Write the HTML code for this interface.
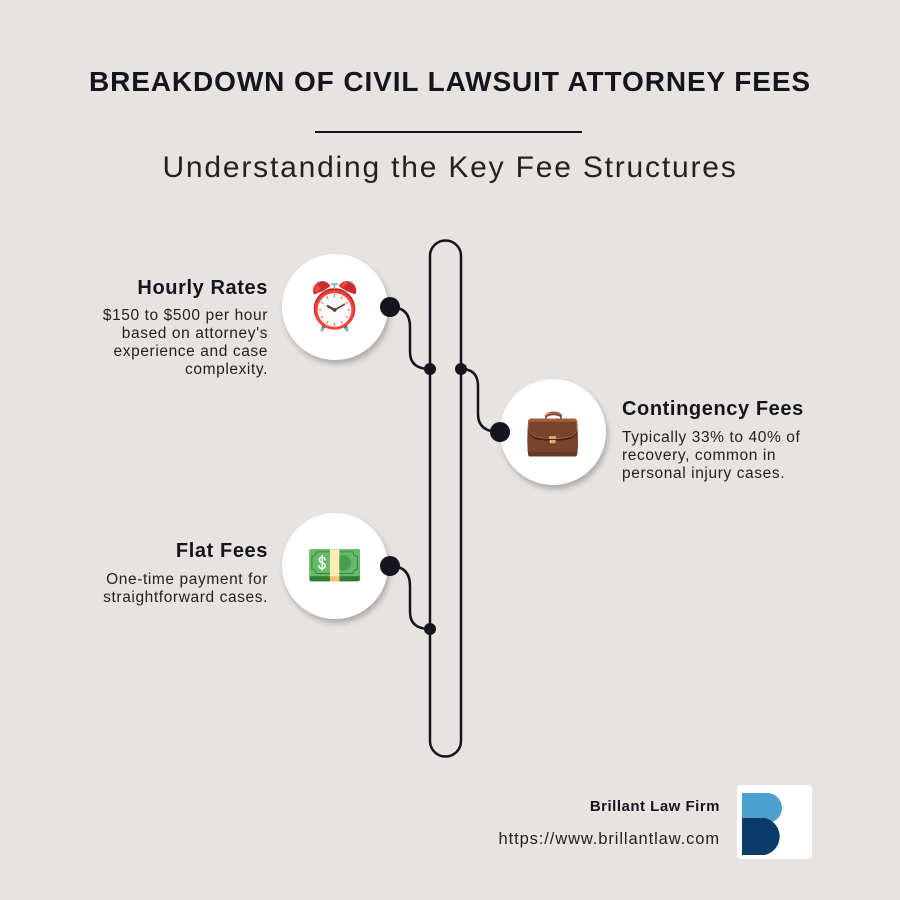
<!DOCTYPE html>
<html><head><meta charset="utf-8"><style>
body{margin:0;width:900px;height:900px;background:#e7e3e1;font-family:"Liberation Sans",sans-serif;color:#15151d;position:relative;overflow:hidden}
.t{position:absolute;white-space:nowrap}
.h{font-size:20px;font-weight:bold;letter-spacing:0.6px}
.b{font-size:15.5px;line-height:18px;letter-spacing:0.6px;color:#222}
.circ{position:absolute;width:106px;height:106px;border-radius:50%;background:#fff;box-shadow:2px 4px 6px rgba(0,0,0,.25);display:flex;align-items:center;justify-content:center;font-size:46px;font-family:"Noto Color Emoji","DejaVu Sans",sans-serif}
</style></head><body>
<div class="t" style="left:0;width:900px;text-align:center;top:66px;font-size:28px;font-weight:bold;letter-spacing:0.9px">BREAKDOWN OF CIVIL LAWSUIT ATTORNEY FEES</div>
<div style="position:absolute;left:315px;top:131px;width:267px;height:2px;background:#15151d"></div>
<div class="t" style="left:0;width:900px;text-align:center;top:151px;font-size:30px;font-weight:300;color:#222;letter-spacing:1.8px">Understanding the Key Fee Structures</div>
<svg width="900" height="900" style="position:absolute;left:0;top:0">
<g fill="none" stroke="#15151d" stroke-width="2.5">
<path d="M430,741 L430,256 A15.5,15.5 0 0 1 461,256 L461,741 A15.5,15.5 0 0 1 430,741"/>
<path d="M390,307 Q410,307 410,327 L410,352 Q410,369 430,369"/>
<path d="M461,369 Q478,369 478,386 L478,414 Q478,432 500,432"/>
<path d="M390,566 Q410,566 410,586 L410,612 Q410,629 430,629"/>
</g>
</svg>
<div class="circ" style="left:282px;top:254px">⏰</div>
<div class="circ" style="left:500px;top:379px">💼</div>
<div class="circ" style="left:282px;top:513px">💵</div>
<svg width="900" height="900" style="position:absolute;left:0;top:0">
<g fill="#15151d">
<circle cx="390" cy="307" r="10"/><circle cx="430" cy="369" r="6"/><circle cx="461" cy="369" r="6"/>
<circle cx="500" cy="432" r="10"/><circle cx="390" cy="566" r="10"/><circle cx="430" cy="629" r="6"/>
</g></svg>
<div class="t h" style="right:632px;top:277px;text-align:right">Hourly Rates</div>
<div class="t b" style="right:632px;top:307px;text-align:right">$150 to $500 per hour<br>based on attorney's<br>experience and case<br>complexity.</div>
<div class="t h" style="left:622px;top:398px">Contingency Fees</div>
<div class="t b" style="left:622px;top:429px">Typically 33% to 40% of<br>recovery, common in<br>personal injury cases.</div>
<div class="t h" style="right:632px;top:540px;text-align:right">Flat Fees</div>
<div class="t b" style="right:632px;top:571px;text-align:right">One-time payment for<br>straightforward cases.</div>
<div class="t" style="right:180px;top:798px;font-size:15px;font-weight:bold;letter-spacing:0.5px">Brillant Law Firm</div>
<div class="t" style="right:180px;top:830px;font-size:16.5px;color:#222;letter-spacing:0.9px">https://www.brillantlaw.com</div>
<div style="position:absolute;left:737px;top:785px;width:75px;height:74px;background:#fff;border-radius:4px"></div>
<svg width="900" height="900" style="position:absolute;left:0;top:0">
<path d="M742,793 L767,793 A15,15 0 0 1 767,823 L742,823Z" fill="#4aa0cf"/>
<path d="M742,818 L765,818 A19,19 0 0 1 765,855 L742,855Z" fill="#0b3b68"/>
</svg>
</body></html>
